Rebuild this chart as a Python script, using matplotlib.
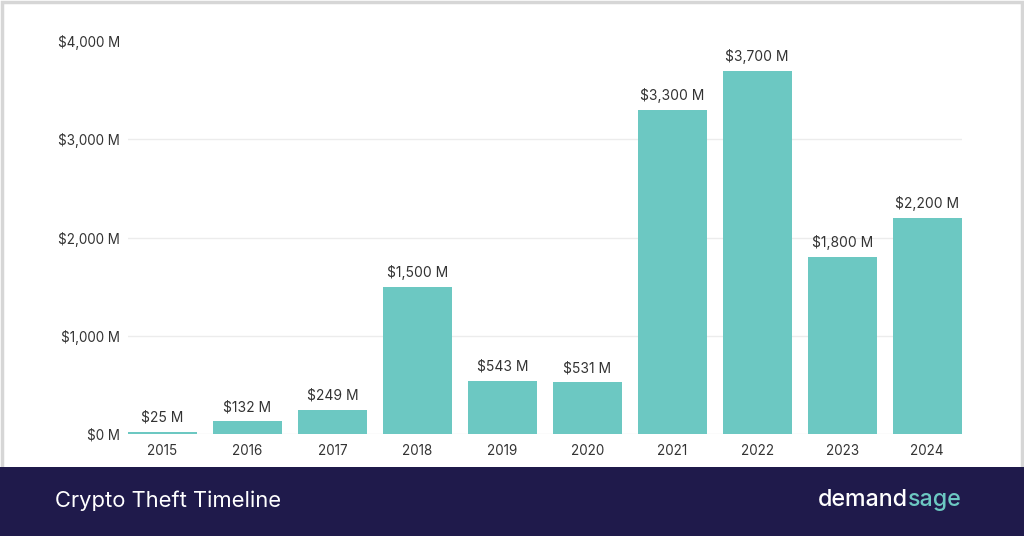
import matplotlib.pyplot as plt
from matplotlib.patches import Rectangle

years = ['2015', '2016', '2017', '2018', '2019', '2020', '2021', '2022', '2023', '2024']
stolen = [25, 132, 249, 1500, 543, 531, 3300, 3700, 1800, 2200]
labels = ['$25 M', '$132 M', '$249 M', '$1,500 M', '$543 M', '$531 M',
          '$3,300 M', '$3,700 M', '$1,800 M', '$2,200 M']
yticks = [0, 1000, 2000, 3000, 4000]
ytick_labels = ['$0 M', '$1,000 M', '$2,000 M', '$3,000 M', '$4,000 M']

bar_color = '#6cc8c2'
navy = '#1f1a4b'
text_color = '#333333'

plt.rcParams['font.family'] = ['Inter', 'DejaVu Sans']

fig = plt.figure(figsize=(10.24, 5.36), dpi=100)
fig.patch.set_facecolor('white')

# light gray frame round the white area
fig.patches.append(Rectangle((0.0015, 0.12), 0.997, 0.877, transform=fig.transFigure,
                             fill=False, edgecolor='#d6d6d6', linewidth=2.5))
# bottom banner
fig.patches.append(Rectangle((0, 0), 1, 69 / 536, transform=fig.transFigure,
                             facecolor=navy, edgecolor='none'))

ax = fig.add_axes([0.125, 0.19, 0.814, 0.7332])
x = range(len(years))
bars = ax.bar(x, stolen, width=0.81, color=bar_color, zorder=3)
for b, lab in zip(bars, labels):
    ax.annotate(lab, (b.get_x() + b.get_width() / 2, b.get_height()),
                xytext=(0, 5), textcoords='offset points', ha='center', va='bottom',
                fontsize=10, color=text_color)

for y in [0, 1000, 2000, 3000]:
    ax.axhline(y, color='#ececec', linewidth=1, zorder=1)

ax.set_xlim(-0.405, 9.405)
ax.set_ylim(0, 4000)
ax.set_xticks(list(x))
ax.set_xticklabels(years)
ax.set_yticks(yticks)
ax.set_yticklabels(ytick_labels)
ax.tick_params(length=0, labelsize=9.7, colors=text_color)
ax.tick_params(axis='y', pad=6)
ax.tick_params(axis='x', pad=7)
for s in ax.spines.values():
    s.set_visible(False)

fig.text(55 / 1024, 1 - 501 / 536, 'Crypto Theft Timeline', color='white',
         fontsize=15.8, va='center', ha='left')
t = fig.text(818 / 1024, 1 - 500 / 536, 'demand', color='white', fontsize=16.7,
             fontweight='medium', va='center', ha='left')
fig.canvas.draw()
bb = t.get_window_extent()
fig.text(bb.x1 / 1024, 1 - 500 / 536, 'sage', color=bar_color, fontsize=16.7,
         fontweight='medium', va='center', ha='left')

fig.savefig('out.png', dpi=100)
